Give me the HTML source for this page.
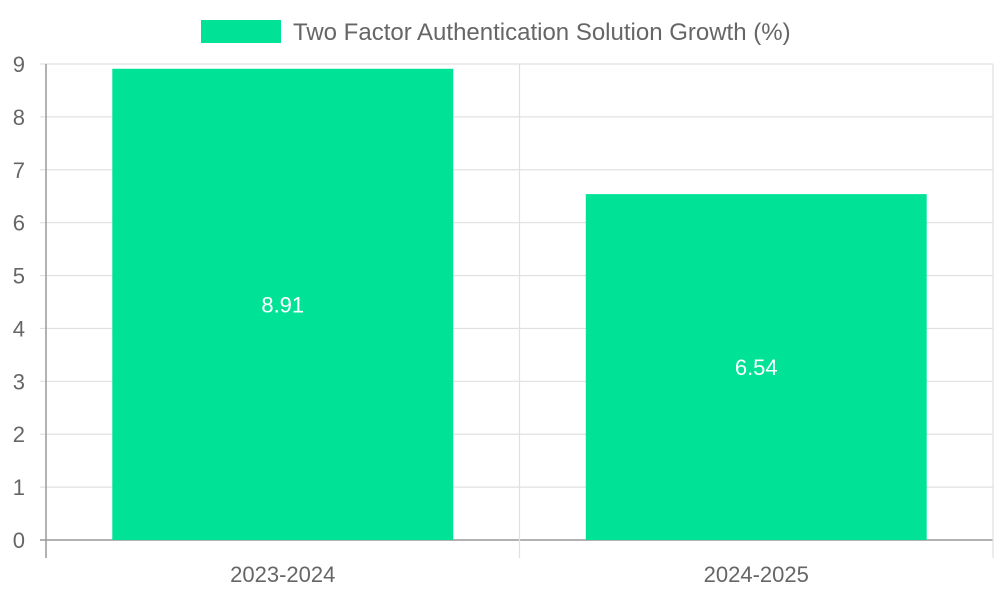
<!DOCTYPE html>
<html><head><meta charset="utf-8"><style>
body{margin:0;background:#fff;}
svg{display:block;font-family:"Liberation Sans",sans-serif;}
</style></head><body>
<svg id="chart" width="1000" height="600">
<g>
<rect x="201" y="20" width="80" height="23" fill="#00e396"/>
<text x="293" y="40" font-size="24" fill="#666">Two Factor Authentication Solution Growth (%)</text>
</g>
<g id="grid"></g>
<g id="bars"></g>
<g id="axes"></g>
</svg>
<script>
const categories=["2023-2024","2024-2025"];
const values=[8.91,6.54];
const yTicks=[0,1,2,3,4,5,6,7,8,9];
const NS="http://www.w3.org/2000/svg";
const L=46,R=993,T=64,B=540,yMax=9;
const y=v=>B-(v/yMax)*(B-T);
const cw=(R-L)/categories.length;
const x=i=>L+cw*i;
function mk(t,a,p){const e=document.createElementNS(NS,t);for(const k in a)e.setAttribute(k,a[k]);p.appendChild(e);return e;}
const grid=document.getElementById('grid'),bars=document.getElementById('bars'),axes=document.getElementById('axes');
yTicks.forEach(t=>{
 const ln=mk('line',{x1:40,x2:R,y1:y(t),y2:y(t),stroke:t===0?'#999':'#e0e0e0','stroke-width':t===0?1.5:1.2},grid);
 
 
 const tx=mk('text',{x:25,y:y(t)+8,'font-size':22,fill:'#666','text-anchor':'end'},axes);
 tx.textContent=t;
 
 
});
for(let i=0;i<=categories.length;i++){
 const ln=mk('line',{x1:x(i),x2:x(i),y1:T,y2:558,stroke:i===0?'#999':'#e0e0e0','stroke-width':i===0?1.5:1.2},grid);
 
 
}
categories.forEach((c,i)=>{
 const bw=cw*0.72,cx=x(i)+cw/2;
 const r=mk('rect',{x:cx-bw/2,y:y(values[i]),width:bw,height:B-y(values[i]),fill:'#00e396'},bars);
 
 
 const v=mk('text',{x:cx,y:(y(values[i])+B)/2+8,'font-size':22,fill:'#fff','text-anchor':'middle'},bars);
 v.textContent=values[i];
 
 
 const t=mk('text',{x:cx,y:582,'font-size':22,fill:'#666','text-anchor':'middle'},axes);
 t.textContent=c;
 
 
});
</script>
</body></html>
